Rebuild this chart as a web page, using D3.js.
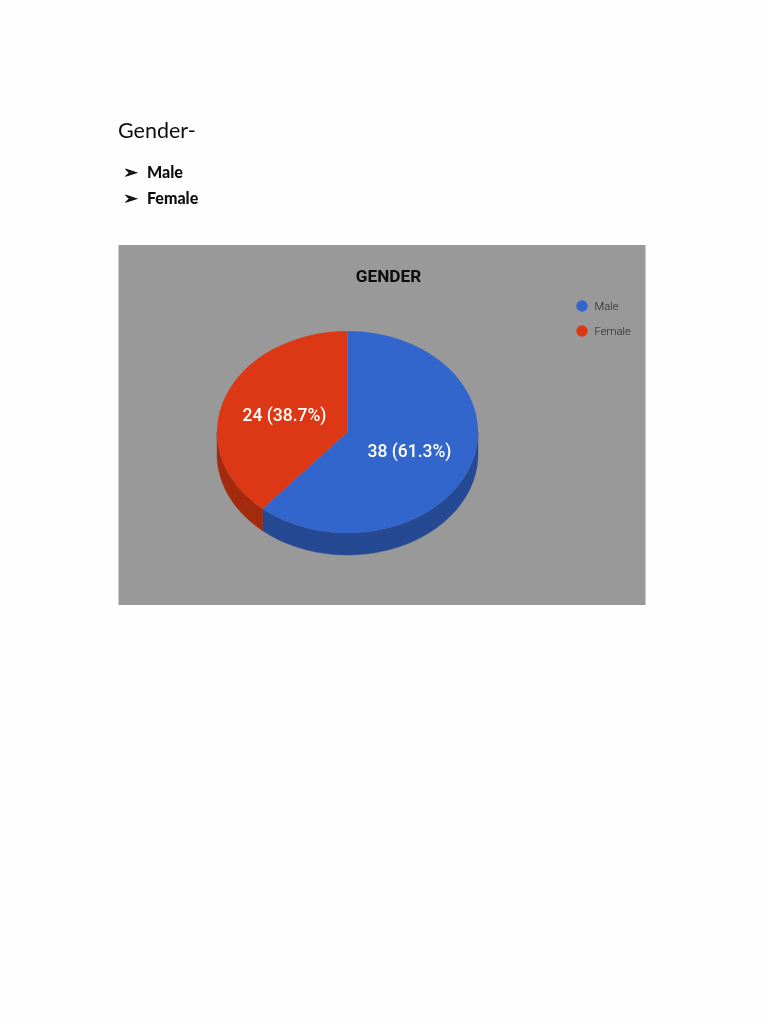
<!DOCTYPE html>
<html>
<head>
<meta charset="utf-8">
<script src="https://cdn.jsdelivr.net/npm/d3@7"></script>
<style>
html,body{margin:0;padding:0;background:#fefefe;}
svg{display:block;}
</style>
</head>
<body>
<svg id="c" width="768" height="1024"></svg>
<script>
const pageHeading = "Gender-";
const bulletItems = ["Male", "Female"];
const chartTitle = "GENDER";
const categories = ["Male", "Female"];
const values = [38, 24];
const sliceLabels = ["38 (61.3%)", "24 (38.7%)"];
const topColors = ["#3366cc", "#dc3912"];
const wallColors = ["#254a94", "#a32a0e"];

const svg = d3.select("#c");
const soft = svg.append("defs").append("filter").attr("id","soft");
soft.append("feGaussianBlur").attr("stdDeviation",0.4);
const root = svg.append("g").attr("filter","url(#soft)");

root.append("text").attr("x",118).attr("y",138)
  .attr("font-family","Lato").attr("font-size",21.5).attr("fill","#111").text(pageHeading);

const bulletY = d3.scalePoint().domain(bulletItems).range([178,204]);
bulletItems.forEach(d=>{
  root.append("text").attr("x",123.5).attr("y",bulletY(d)-0.5)
    .attr("font-family","DejaVu Sans").attr("font-size",17).attr("fill","#111")
    .attr("stroke","#111").attr("stroke-width",0.7).text("\u27A2");
  root.append("text").attr("x",147).attr("y",bulletY(d))
    .attr("font-family","Lato").attr("font-weight",900).attr("font-size",16).attr("fill","#111").text(d);
});

root.append("rect").attr("x",118.5).attr("y",245).attr("width",527).attr("height",360).attr("fill","#999999");

root.append("text").attr("x",388.5).attr("y",282).attr("text-anchor","middle")
  .attr("font-family","Roboto").attr("font-weight",700).attr("font-size",17.2).attr("fill","#0c0c0c").text(chartTitle);

const legendY = d3.scalePoint().domain(categories).range([306,331]);
categories.forEach((d,i)=>{
  root.append("circle").attr("cx",582).attr("cy",legendY(d)).attr("r",5.7).attr("fill",topColors[i]);
  root.append("text").attr("x",594.5).attr("y",legendY(d)+4.3)
    .attr("font-family","Roboto").attr("font-weight",300).attr("font-size",11.2).attr("fill","#222").text(d);
});

const cx=347.5, cy=432, rx=130.5, ry=101, depth=22;
const arcs = d3.pie().sort(null)(values);
const px = a => cx + rx*Math.sin(a);
const py = a => cy - ry*Math.cos(a);

// side walls: the part of each slice's rim on the lower half of the ellipse
const wallLine = d3.line();
arcs.forEach((a,i)=>{
  const s=Math.max(a.startAngle,Math.PI/2), e=Math.min(a.endAngle,Math.PI*1.5);
  if(e<=s) return;
  const angles=d3.range(0,81).map(k=>s+(e-s)*k/80);
  const pts=angles.map(t=>[px(t),py(t)]).concat(angles.slice().reverse().map(t=>[px(t),py(t)+depth]));
  root.append("path").attr("d",wallLine(pts)+"Z").attr("fill",wallColors[i]).attr("stroke",wallColors[i]).attr("stroke-width",0.4);
});

// top face
const arc = d3.arc().innerRadius(0).outerRadius(rx);
const topFace = root.append("g").attr("transform",`translate(${cx},${cy}) scale(1,${ry/rx})`);
topFace.selectAll("path").data(arcs).join("path").attr("d",arc).attr("fill",(d,i)=>topColors[i]);

const labelPos=[[409.5,457],[284.5,421]];
sliceLabels.forEach((t,i)=>{
  root.append("text").attr("x",labelPos[i][0]).attr("y",labelPos[i][1]).attr("text-anchor","middle")
    .attr("font-family","Roboto").attr("font-weight",500).attr("font-size",17.5).attr("fill","#fff").text(t);
});
</script>
</body>
</html>
